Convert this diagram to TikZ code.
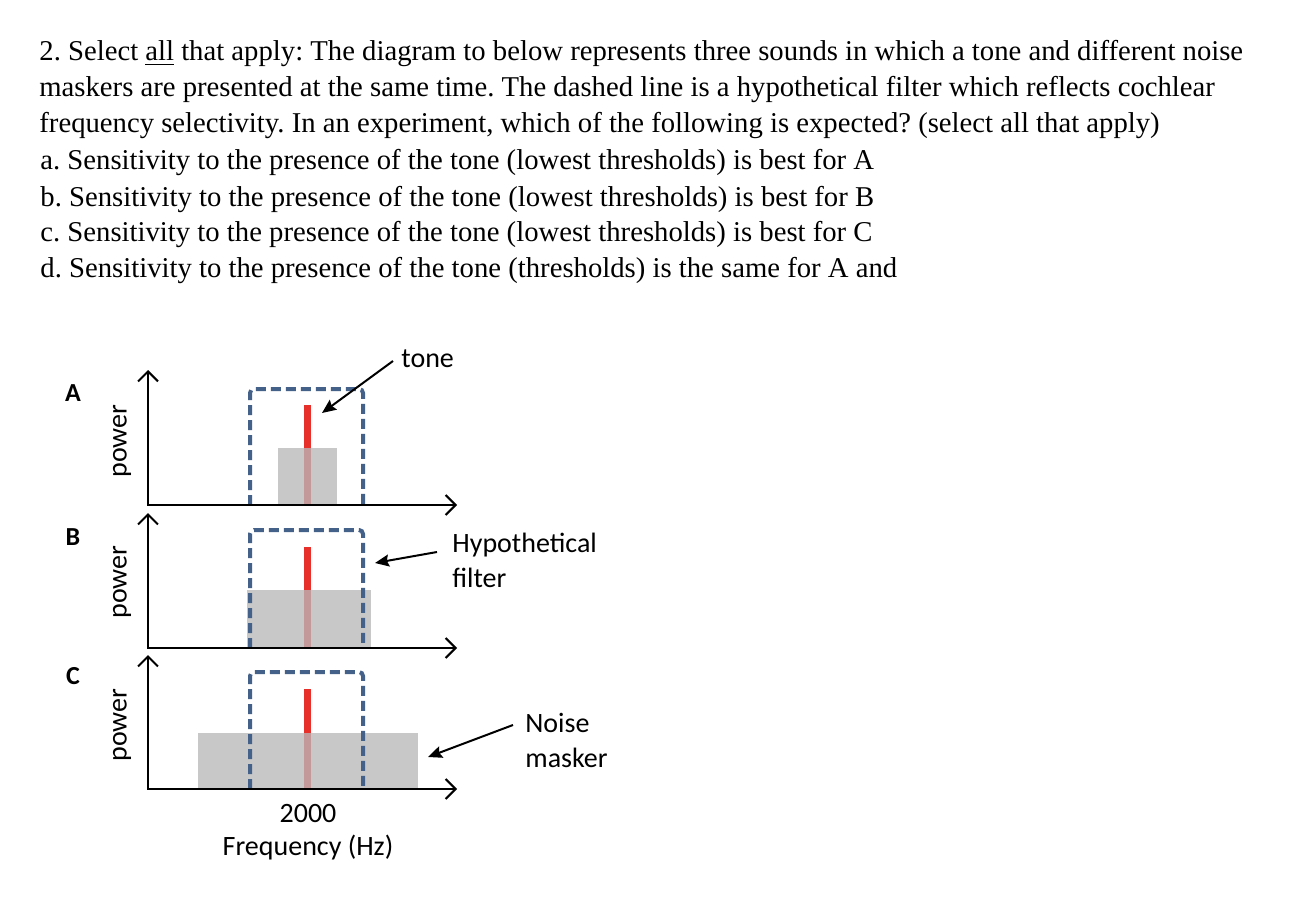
\documentclass[tikz,border=0pt]{standalone}
\usepackage{fontspec}
\setmainfont{Liberation Serif}
\newfontfamily\labelfont{Carlito}
\usetikzlibrary{arrows.meta}

\definecolor{filterblue}{RGB}{68,97,138}
\definecolor{tonered}{RGB}{232,48,42}
\definecolor{noisegray}{RGB}{185,185,185}

\begin{document}
\frenchspacing
\begin{tikzpicture}[
    x=0.5pt, y=-0.5pt,
    >={Stealth[length=7pt,width=6pt,inset=1pt]},
    qline/.style={anchor=base west, inner sep=0pt, font=\fontsize{14.35}{16}\selectfont},
    axes/.style={line width=1pt, {Straight Barb[length=5pt,width=10pt]}-{Straight Barb[length=5pt,width=10pt]}},
    filter/.style={draw=filterblue, line width=2pt, dash pattern=on 5pt off 2.5pt, rounded corners=2pt},
    tonebar/.style={fill=tonered},
    noise/.style={fill=noisegray, fill opacity=0.78},
    panel/.style={font=\labelfont\bfseries\fontsize{13}{15}\selectfont},
    ylab/.style={rotate=90, font=\labelfont\fontsize{14}{16}\selectfont},
    callout/.style={anchor=base west, inner sep=0pt, align=left, font=\labelfont\fontsize{14}{17.5}\selectfont},
    pointer/.style={->, line width=1pt}
  ]
    \fill[white] (0,0) rectangle (1298,904);
    \useasboundingbox (0,0) rectangle (1298,904);

    % question
    \node[qline] (q1) at (39,61) {2. Select \underline{all} that apply: The diagram to below represents three sounds in which a tone and different noise};
    \node[qline] (q2) at (39,97) {maskers are presented at the same time. The dashed line is a hypothetical filter which reflects cochlear};
    \node[qline] (q3) at (39,133) {frequency selectivity. In an experiment, which of the following is expected? (select all that apply)};
    \node[qline] (qa) at (40,170) {a. Sensitivity to the presence of the tone (lowest thresholds) is best for A};
    \node[qline] (qb) at (40,206) {b. Sensitivity to the presence of the tone (lowest thresholds) is best for B};
    \node[qline] (qc) at (40,242) {c. Sensitivity to the presence of the tone (lowest thresholds) is best for C};
    \node[qline] (qd) at (40,278) {d. Sensitivity to the presence of the tone (thresholds) is the same for A and};

    % panel A
    \fill[tonebar] (304,405) rectangle (311,505);
    \fill[noise] (278,448) rectangle (337,505);
    \draw[filter] (250,505) -- (250,389) -- (363,389) -- (363,505);
    \draw[axes] (148,370) -- (148,505) -- (457,505);
    \node[panel] (labA) at (73,393) {A};
    \node[ylab] (powA) at (122,441) {power};

    % panel B
    \fill[tonebar] (304,547) rectangle (311,648);
    \fill[noise] (247,590) rectangle (371,648);
    \draw[filter] (250,648) -- (250,530) -- (363,530) -- (363,648);
    \draw[axes] (148,513) -- (148,648) -- (457,648);
    \node[panel] (labB) at (73,537) {B};
    \node[ylab] (powB) at (122,582) {power};

    % panel C
    \fill[tonebar] (304,689) rectangle (311,789);
    \fill[noise] (198,733) rectangle (418,789);
    \draw[filter] (250,789) -- (250,672) -- (363,672) -- (363,789);
    \draw[axes] (148,655) -- (148,789) -- (457,789);
    \node[panel] (labC) at (73,676) {C};
    \node[ylab] (powC) at (122,725) {power};

    \node[anchor=base, font=\labelfont\fontsize{14}{17}\selectfont] (freq) at (308,822) {2000};
    \node[anchor=base, font=\labelfont\fontsize{14}{17}\selectfont] (fname) at (308,855) {Frequency (Hz)};

    % callouts
    \node[callout] (tone) at (401,367) {tone};
    \node[callout] (hyp) at (452,587) {Hypothetical\\filter};
    \node[callout] (noiselab) at (525,767) {Noise\\masker};
    \coordinate (tonetip) at (322,413);
    \coordinate (filtertip) at (375,563);
    \coordinate (noisetip) at (428,757);
    \draw[pointer] ([xshift=-4pt,yshift=3pt]tone.base west) -- (tonetip);
    \draw[pointer] ([xshift=-7.5pt,yshift=17.5pt]hyp.base west) -- (filtertip);
    \draw[pointer] ([xshift=-6pt,yshift=21pt]noiselab.base west) -- (noisetip);
  \end{tikzpicture}
\end{document}
